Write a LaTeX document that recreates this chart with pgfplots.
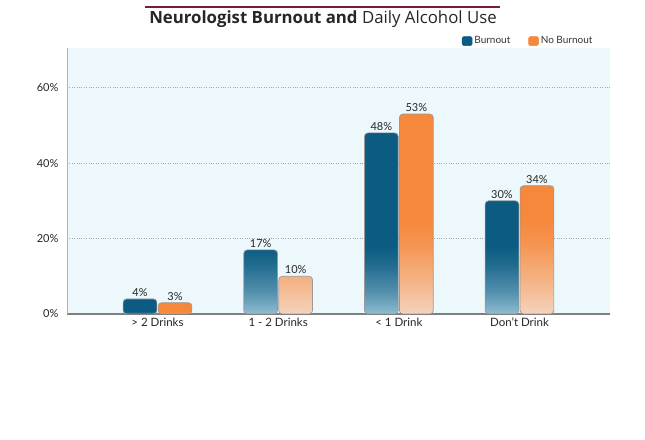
\documentclass[border=0pt]{standalone}
\usepackage{pgfplots}
\pgfplotsset{compat=1.18}
\usepackage{fontspec}
\setmainfont{Lato}
\newfontfamily\titlefont{Open Sans}

\definecolor{burn}{HTML}{0B5B82}
\definecolor{burnlight}{HTML}{90BCD1}
\definecolor{noburn}{HTML}{F5883B}
\definecolor{noburnlight}{HTML}{F4D3BC}
\definecolor{plotbg}{HTML}{EDF8FD}
\definecolor{titleline}{HTML}{7A1C33}

% shadings are stretched so that 25bp..75bp covers the bar
\pgfdeclareverticalshading{burnshade}{100bp}{color(0bp)=(burnlight); color(25bp)=(burnlight); color(31bp)=(burn!45!burnlight); color(39bp)=(burn!85!burnlight); color(44bp)=(burn); color(100bp)=(burn)}
\pgfdeclareverticalshading{noburnshade}{100bp}{color(0bp)=(noburnlight); color(25bp)=(noburnlight); color(34bp)=(noburn!45!noburnlight); color(43bp)=(noburn!85!noburnlight); color(49bp)=(noburn); color(100bp)=(noburn)}
% short bars are nearly solid
\pgfdeclareverticalshading{burnshort}{100bp}{color(0bp)=(burn!75!burnlight); color(25bp)=(burn!75!burnlight); color(36bp)=(burn); color(100bp)=(burn)}
\pgfdeclareverticalshading{noburnshort}{100bp}{color(0bp)=(noburn!75!noburnlight); color(25bp)=(noburn!75!noburnlight); color(36bp)=(noburn); color(100bp)=(noburn)}

\pgfplotsset{
  barbase/.style={draw=black!40, line width=0.7pt, rounded corners=3.5pt, forget plot},
}

\begin{document}
\begin{tikzpicture}[x=1pt,y=1pt]
\path[use as bounding box] (0,0) rectangle (645,439);

\draw[titleline, line width=1.5pt] (145,432) -- (500,432);
\node[font=\titlefont\fontsize{16.8}{19}\selectfont, text=black!85] at (323,420)
  {\textbf{Neurologist Burnout and} Daily Alcohol Use};

\begin{axis}[
    at={(67pt,125pt)}, anchor=south west,
    width=543pt, height=266pt, scale only axis,
    ybar, bar width=0.28,
    xmin=-0.75, xmax=3.75,
    ymin=0, ymax=70.5,
    xtick={0,1,2,3},
    xticklabels={{> 2 Drinks},{1 - 2 Drinks},{< 1 Drink},{Don't Drink}},
    major x tick style={draw=none},
    extra x ticks={0.5,1.5,2.5},
    extra x tick labels={},
    extra x tick style={tick align=outside, major tick length=7pt,
      tick style={draw=black!55, line width=0.6pt}},
    ytick={0,20,40,60},
    yticklabel={\pgfmathprintnumber{\tick}\%},
    major y tick style={draw=none},
    ymajorgrids,
    grid style={black!35, dotted, line width=0.5pt},
    axis lines=left, axis line style={-},
    x axis line style={black!50, line width=1.6pt},
    y axis line style={black!30, line width=0.6pt},
    axis background/.style={fill=plotbg},
    tick label style={font=\fontsize{11}{13}\selectfont, text=black!85},
    xticklabel style={font=\fontsize{11.5}{13}\selectfont, yshift=1.5pt},
    /pgf/number format/assume math mode=true,
    yticklabel style={xshift=-3pt},
    nodes near coords={\pgfmathprintnumber{\pgfplotspointmeta}\%},
    every node near coord/.append style={font=\fontsize{11}{12}\selectfont, text=black!85, inner sep=2pt},
    legend style={at={(rel axis cs:0.7274,1.026)}, anchor=west, draw=none, fill=none,
      legend columns=-1, font=\fontsize{10}{11}\selectfont, text=black!80,
      inner sep=0pt, outer sep=0pt,
      /tikz/every even column/.append style={column sep=16pt}},
    legend cell align=left,
  ]
  % Burnout
  \addplot[bar shift=-0.145, shading=burnshort, barbase]
    coordinates {(0,4)};
  \addplot[bar shift=-0.145, shading=burnshade, barbase]
    coordinates {(1,17) (2,48) (3,30)};
  % No Burnout
  \addplot[bar shift=0.145, shading=noburnshort, barbase]
    coordinates {(0,3)};
  \addplot[bar shift=0.145, shading=noburnshade, barbase]
    coordinates {(1,10) (2,53) (3,34)};
  \addlegendimage{legend image code/.code={\fill[burn, rounded corners=1.5pt] (0pt,-4.5pt) rectangle (10pt,4.5pt);}}
  \addlegendentry{Burnout}
  \addlegendimage{legend image code/.code={\fill[noburn, rounded corners=1.5pt] (0pt,-4.5pt) rectangle (10pt,4.5pt);}}
  \addlegendentry{No Burnout}
\end{axis}
\end{tikzpicture}
\end{document}
